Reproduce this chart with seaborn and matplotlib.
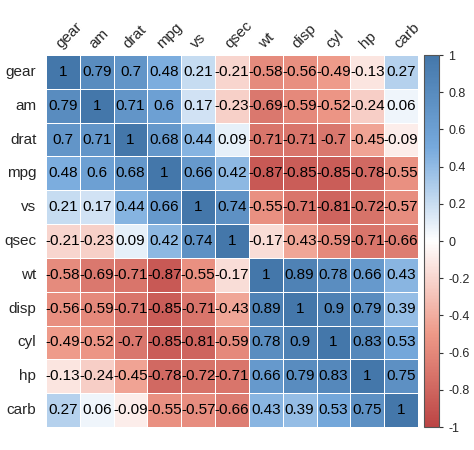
import numpy as np
import pandas as pd
import matplotlib
matplotlib.use("Agg")
import matplotlib.pyplot as plt
import seaborn as sns
from matplotlib.colors import LinearSegmentedColormap

variables = ["gear", "am", "drat", "mpg", "vs", "qsec", "wt", "disp", "cyl", "hp", "carb"]

r_gear = [1, 0.79, 0.7, 0.48, 0.21, -0.21, -0.58, -0.56, -0.49, -0.13, 0.27]
r_am   = [0.79, 1, 0.71, 0.6, 0.17, -0.23, -0.69, -0.59, -0.52, -0.24, 0.06]
r_drat = [0.7, 0.71, 1, 0.68, 0.44, 0.09, -0.71, -0.71, -0.7, -0.45, -0.09]
r_mpg  = [0.48, 0.6, 0.68, 1, 0.66, 0.42, -0.87, -0.85, -0.85, -0.78, -0.55]
r_vs   = [0.21, 0.17, 0.44, 0.66, 1, 0.74, -0.55, -0.71, -0.81, -0.72, -0.57]
r_qsec = [-0.21, -0.23, 0.09, 0.42, 0.74, 1, -0.17, -0.43, -0.59, -0.71, -0.66]
r_wt   = [-0.58, -0.69, -0.71, -0.87, -0.55, -0.17, 1, 0.89, 0.78, 0.66, 0.43]
r_disp = [-0.56, -0.59, -0.71, -0.85, -0.71, -0.43, 0.89, 1, 0.9, 0.79, 0.39]
r_cyl  = [-0.49, -0.52, -0.7, -0.85, -0.81, -0.59, 0.78, 0.9, 1, 0.83, 0.53]
r_hp   = [-0.13, -0.24, -0.45, -0.78, -0.72, -0.71, 0.66, 0.79, 0.83, 1, 0.75]
r_carb = [0.27, 0.06, -0.09, -0.55, -0.57, -0.66, 0.43, 0.39, 0.53, 0.75, 1]

rows = [r_gear, r_am, r_drat, r_mpg, r_vs, r_qsec, r_wt, r_disp, r_cyl, r_hp, r_carb]
df = pd.DataFrame(rows, index=variables, columns=variables)

cbar_ticks = [-1, -0.8, -0.6, -0.4, -0.2, 0, 0.2, 0.4, 0.6, 0.8, 1]

sns.set_style("white")
plt.rcParams["font.family"] = ["Liberation Sans", "DejaVu Sans"]

cmap = LinearSegmentedColormap.from_list(
    "corr", ["#BB4444", "#EE9988", "#FFFFFF", "#77AADD", "#4477AA"], N=256)

fig = plt.figure(figsize=(4.74, 4.5), dpi=100)
ax = fig.add_axes([46/474, 23/450, 372/474, 372/450])
cax = fig.add_axes([424/474, 23/450, 15/474, 372/450])

annot = df.map(lambda v: f"{v:g}")
sns.heatmap(df, ax=ax, cmap=cmap, vmin=-1, vmax=1, annot=annot, fmt="",
            annot_kws={"fontsize": 11, "color": "black"},
            linewidths=0.7, linecolor="white", cbar=True, cbar_ax=cax,
            square=False)

ax.xaxis.tick_top()
ax.set_xticklabels(variables, rotation=45, ha="left", va="bottom",
                   rotation_mode="anchor", fontsize=11)
ax.set_yticklabels(variables, rotation=0, fontsize=11)
ax.tick_params(axis="y", length=0, pad=7)
ax.tick_params(axis="x", length=0, pad=3)
ax.set_xlabel("")
ax.set_ylabel("")

cbar = ax.collections[0].colorbar
cbar.set_ticks(cbar_ticks)
cbar.set_ticklabels([f"{t:g}" for t in cbar_ticks])
cbar.ax.tick_params(labelsize=9, length=3, width=0.8, color="#333333")
cbar.outline.set_visible(True)
cbar.outline.set_linewidth(0.8)
cbar.outline.set_edgecolor("#555555")

fig.savefig("out.png", dpi=100)
